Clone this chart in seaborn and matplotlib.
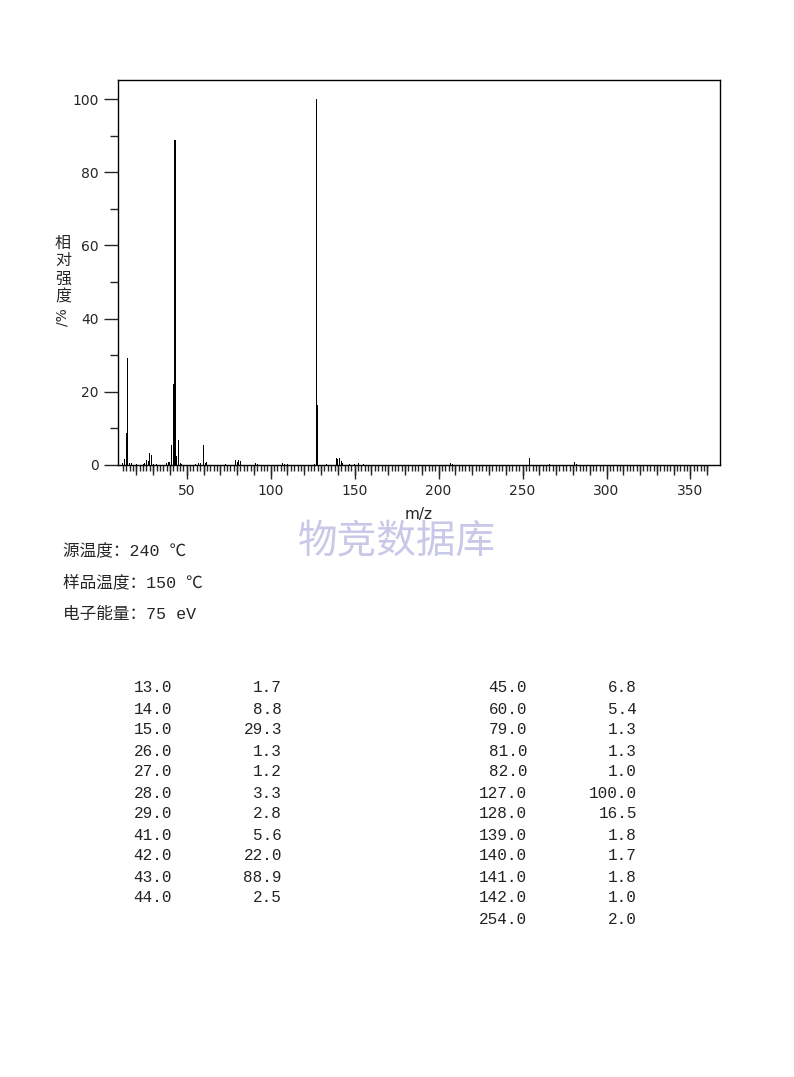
import numpy as np
import pandas as pd
import matplotlib
matplotlib.use("Agg")
import matplotlib.pyplot as plt
from matplotlib.ticker import MultipleLocator, FixedLocator
import seaborn as sns

# -------------------------------
# Data (peaks >= 1 %, as listed in the table)
# -------------------------------
mz_main = [13.0, 14.0, 15.0, 26.0, 27.0, 28.0, 29.0, 41.0, 42.0, 43.0, 44.0,
           45.0, 60.0, 79.0, 81.0, 82.0, 127.0, 128.0, 139.0, 140.0, 141.0, 142.0, 254.0]
int_main = [1.7, 8.8, 29.3, 1.3, 1.2, 3.3, 2.8, 5.6, 22.0, 88.9, 2.5,
            6.8, 5.4, 1.3, 1.3, 1.0, 100.0, 16.5, 1.8, 1.7, 1.8, 1.0, 2.0]

# small peaks (< 1 %)
mz_small = [12, 16, 17, 20, 24, 25, 30, 32, 38, 39, 40, 46, 47, 55, 57, 58, 61, 62, 73,
            80, 91, 92, 107, 108, 110, 126, 133, 143, 147, 150, 152, 155, 207, 208, 266, 281, 282]
int_small = [0.6, 0.6, 0.5, 0.3, 0.4, 0.6, 0.4, 0.3, 0.5, 0.9, 0.8, 0.5, 0.4, 0.4, 0.5, 0.5, 0.6, 0.8, 0.4,
             0.9, 0.5, 0.4, 0.5, 0.4, 0.3, 0.3, 0.4, 0.6, 0.4, 0.4, 0.6, 0.3, 0.6, 0.4, 0.3, 0.8, 0.4]

info_lines = ["源温度：240 ℃", "样品温度：150 ℃", "电子能量：75 eV"]

df = pd.DataFrame({"mz": mz_main + mz_small, "intensity": int_main + int_small})

# -------------------------------
# Figure
# -------------------------------
sns.set_style("ticks")
plt.rcParams["font.family"] = ["DejaVu Sans", "Noto Sans CJK SC"]

fig = plt.figure(figsize=(7.94, 10.77), dpi=100)
W, H = 794, 1077
ax = fig.add_axes([118 / W, 1 - 465 / H, 602 / W, 385 / H])

# 0.6 m/z wide bars come out about one pixel wide
sns.histplot(data=df, x="mz", weights="intensity", discrete=True, shrink=0.6,
             color="black", edgecolor="none", linewidth=0, alpha=1, ax=ax)

ax.set_xlim(9.05, 367.6)
ax.set_ylim(0, 105.2)

for s in ax.spines.values():
    s.set_linewidth(1)
    s.set_color("black")

ax.xaxis.set_major_locator(FixedLocator([50, 100, 150, 200, 250, 300, 350]))
ax.xaxis.set_minor_locator(FixedLocator(np.arange(12, 361, 2)))
ax.tick_params(axis="x", which="major", length=10, width=1, labelsize=10, pad=4)
ax.tick_params(axis="x", which="minor", length=4, width=1)

sec = ax.secondary_xaxis("bottom")
sec.set_xticks(np.arange(20, 361, 10))
sec.tick_params(length=7, width=1, labelbottom=False)
sec.spines["bottom"].set_visible(False)

ax.yaxis.set_major_locator(MultipleLocator(20))
ax.yaxis.set_minor_locator(FixedLocator([10, 30, 50, 70, 90]))
ax.tick_params(axis="y", which="major", length=10, width=1, labelsize=10, pad=4)
ax.tick_params(axis="y", which="minor", length=6, width=1)

ax.set_xlabel("m/z", fontsize=11, labelpad=6)
ax.set_ylabel("")

# vertical y label
fig.text(63 / W, 1 - 270 / H, "相\n对\n强\n度", fontsize=11.5, ha="center", va="center",
         family=["Noto Sans CJK SC"], linespacing=1.08)
fig.text(63 / W, 1 - 317 / H, "/%", fontsize=10, ha="center", va="center", rotation=90)

# watermark
fig.text(397 / W, 1 - 541 / H, "物竞数据库", fontsize=28.5, color="#c8c8e8",
         ha="center", va="center", family=["Noto Sans CJK SC"])

# info lines
for i, line in enumerate(info_lines):
    fig.text(63 / W, 1 - (551 + 31.5 * i) / H, line, fontsize=12, ha="left", va="center",
             family=["Liberation Mono", "Noto Sans CJK SC"])

# peak table
left_n = 11
for i in range(len(mz_main)):
    if i < left_n:
        xm, xi, row = 172, 282, i
    else:
        xm, xi, row = 527, 637, i - left_n
    y = 1 - (688 + 21 * row) / H
    fig.text(xm / W, y, f"{mz_main[i]:.1f}", fontsize=11.5, ha="right", va="center",
             family="Liberation Mono", color="#222222")
    fig.text(xi / W, y, f"{int_main[i]:.1f}", fontsize=11.5, ha="right", va="center",
             family="Liberation Mono", color="#222222")

fig.savefig("out.png", dpi=100, facecolor="white")
